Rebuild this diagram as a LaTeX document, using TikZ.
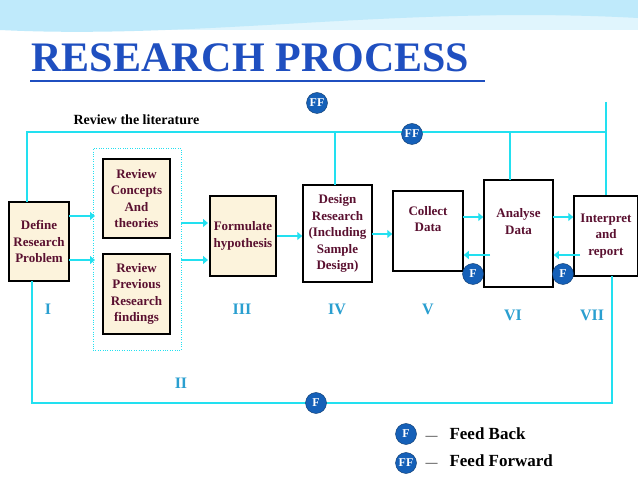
\documentclass[tikz,border=0pt]{standalone}
\usepackage{fontspec}
\setmainfont{Liberation Serif}
\usetikzlibrary{arrows.meta}
\definecolor{cy}{HTML}{22E0F0}
\definecolor{txt}{HTML}{5A1030}
\definecolor{num}{HTML}{2A9FD0}
\definecolor{cream}{HTML}{FCF3DC}
\definecolor{ttl}{HTML}{1F4FC0}
\definecolor{circ}{HTML}{1560B8}
\tikzset{
 box/.style={draw=black,line width=1.5pt,font=\bfseries\fontsize{13}{16.5}\selectfont,text=txt,align=center,inner sep=0pt},
 ln/.style={cy,line width=2.5pt},
 ar/.style={cy,line width=2.5pt,-{Triangle[length=5pt,width=8pt]}},
 fb/.style={circle,fill=circ,draw=circ!60!black,minimum size=21pt,inner sep=0pt,font=\bfseries\fontsize{12}{12}\selectfont,text=white},
 rn/.style={text=num,font=\bfseries\fontsize{16}{16}\selectfont}
}
\begin{document}
\begin{tikzpicture}[x=1pt,y=-1pt]
\useasboundingbox (0,0) rectangle (638,478);
\fill[white] (0,0) rectangle (638,478);
\fill[cyan!12] (0,0) rectangle (638,30);
\fill[cyan!25] (0,30) .. controls (200,40) and (400,5) .. (638,18) -- (638,0) -- (0,0) -- cycle;
\node[anchor=west,text=ttl,font=\bfseries\fontsize{42}{42}\selectfont] (title) at (28,58) {RESEARCH PROCESS};
\draw[ttl,line width=2pt] (30,81) -- (485,81);
% boxes
\node[box,fill=cream,minimum width=60pt,minimum height=79pt] (def) at (39,241.5) {Define\\Research\\Problem};
\node[draw=cy,dotted,minimum width=88pt,minimum height=202pt] (grp) at (137,249) {};
\node[box,fill=cream,minimum width=67pt,minimum height=79pt] (rc) at (136.5,198.5) {Review\\Concepts\\And\\theories};
\node[box,fill=cream,minimum width=67pt,minimum height=80pt] (rp) at (136.5,294) {Review\\Previous\\Research\\findings};
\node[box,fill=cream,minimum width=66pt,minimum height=80pt] (fh) at (243,236) {Formulate\\hypothesis};
\node[box,fill=white,minimum width=69pt,minimum height=97pt] (dr) at (337.5,233.5) {Design\\Research\\(Including\\Sample\\Design)};
\node[box,fill=white,minimum width=70pt,minimum height=80pt] (cd) at (428,231) {Collect\\Data\\[8pt]};
\node[box,fill=white,minimum width=69pt,minimum height=107pt] (ad) at (518.5,233.5) {Analyse\\Data\\[8pt]};
\node[box,fill=white,minimum width=64pt,minimum height=80pt] (ir) at (606,236) {Interpret\\and\\report};
% lines
\coordinate (tl) at (27,132); \coordinate (tr) at (606,132);
\coordinate (tt) at (606,102);
\draw[ln] (27,202) -- (tl) -- (tr);
\draw[ln] (tt) -- (ir.north);
\draw[ln] (335,132) -- (335,185);
\draw[ln] (510,132) -- (510,180);
\draw[ln] (32,281) -- (32,403) -- (612,403) -- (612,276);
\node[fb] (ff1) at (317,103) {FF};
\node[fb] (ff2) at (412,134) {FF};
\node[fb] (f1) at (316,403) {F};
\node[anchor=west,font=\bfseries\fontsize{14}{14}\selectfont] (rl) at (70,120) {Review the literature};
% arrows
\draw[ar] (69,216) -- (95,216);
\draw[ar] (69,260) -- (95,260);
\draw[ar] (181,223) -- (208,223);
\draw[ar] (181,260) -- (208,260);
\draw[ar] (fh.east) -- (dr.west |- fh.east);
\draw[ar] (372,234) -- (cd.west |- 0,234);
\draw[ar] (463,217) -- (ad.west |- 0,217);
\draw[ar] (490,255) -- (cd.east |- 0,255);
\draw[ar] (553,217) -- (ir.west |- 0,217);
\draw[ar] (580,255) -- (ad.east |- 0,255);
\node[fb] (f2) at (473,274) {F};
\node[fb] (f3) at (563,274) {F};
% numerals
\node[rn] (n1) at (48,309) {I};
\node[rn] (n2) at (181,383) {II};
\node[rn] (n3) at (242,309) {III};
\node[rn] (n4) at (337,309) {IV};
\node[rn] (n5) at (428,309) {V};
\node[rn] (n6) at (513,315) {VI};
\node[rn] (n7) at (592,315) {VII};
% legend
\node[fb] (lf) at (406,434) {F};
\node[fb] (lff) at (406,463) {FF};
\node[anchor=west] (l1) at (422,434) {\fontsize{12}{12}\selectfont —\hspace{12pt}\bfseries\fontsize{17}{17}\selectfont Feed Back};
\node[anchor=west] (l2) at (422,461) {\fontsize{12}{12}\selectfont —\hspace{12pt}\bfseries\fontsize{17}{17}\selectfont Feed Forward};
\end{tikzpicture}
\end{document}
